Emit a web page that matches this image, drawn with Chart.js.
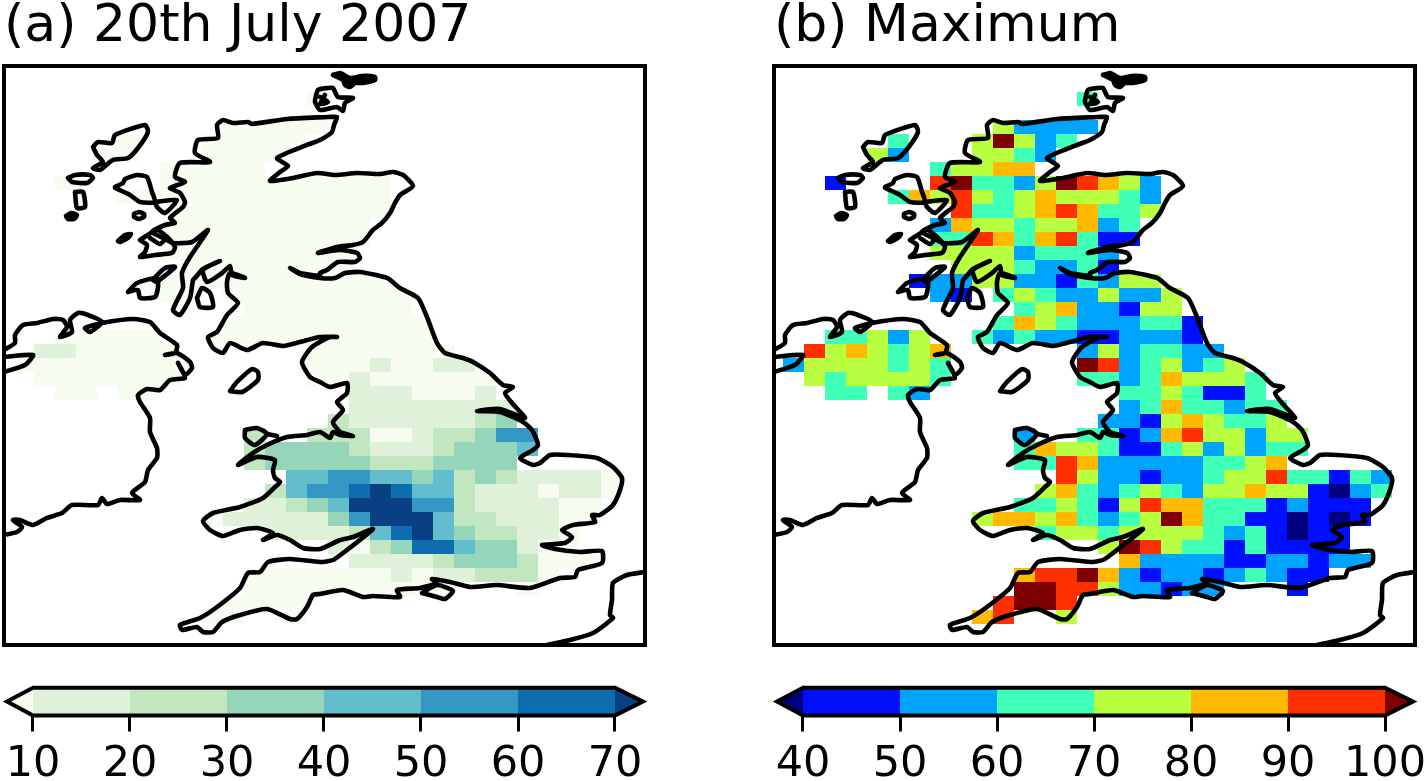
<!DOCTYPE html>
<html><head><meta charset="utf-8">
<style>
html,body{margin:0;padding:0;background:#fff;width:1425px;height:781px;overflow:hidden}
canvas{position:absolute;display:block}
</style>
<script src="https://cdn.jsdelivr.net/npm/chart.js@4"></script>
</head><body>
<canvas id="mapA" width="650" height="650" style="left:0;top:0;width:650px;height:650px"></canvas>
<canvas id="mapB" width="650" height="650" style="left:770px;top:0;width:650px;height:650px"></canvas>
<canvas id="barA" width="700" height="151" style="left:0;top:640px;width:700px;height:151px"></canvas>
<canvas id="barB" width="700" height="151" style="left:770px;top:640px;width:700px;height:151px"></canvas>
<script>
const _ = null;
const titleA = '(a) 20th July 2007';
const titleB = '(b) Maximum';

// Colour bands
const ticksA = [10,20,30,40,50,60,70];
const ticksB = [40,50,60,70,80,90,100];
const coloursA = ['#f7fcf0','#dff2d9','#c2e7c0','#95d6bb','#62bdcc','#3597c4','#0d6daf','#084081'];
const coloursB = ['#00007f','#0010ff','#00a4ff','#40ffb7','#b7ff40','#ffb900','#ff3000','#7f0000'];

// Grid cells: [row, first column, ...band values]. Band mid-values.
const rowsA = [
[2,14,5],
[4,10,5,5,5,5,5],
[5,5,5,_,_,_,5,5,5,5,5],
[6,4,5,5,_,_,_,5,5,5,5],
[7,7,5,5,5,5,5],
[8,2,5,_,_,_,_,5,5,5,5,5,5,5,5,5,5,5],
[9,5,5,5,5,5,5,5,5,5,5,5,5,5,5],
[10,8,5,5,5,5,5,5,5,5,5,5],
[11,7,5,5,5,5,5,5,5,5,5,5],
[12,7,5,5,5,5,5,5,5,5,5,5],
[13,7,5,5,5,5,5,5,5,5,5],
[14,8,5,5,5,5,5,5,5,5],
[15,6,5,5,5,5,5,5,5,5,5,5,5,5],
[16,7,5,5,_,5,5,5,5,5,5,5,5,5],
[17,11,5,5,5,5,5,5,5,5],
[18,10,5,5,5,5,5,5,5,5,5,5],
[19,2,5,5,5,5,5,_,_,5,5,5,5,5,5,5,5,5,5,5],
[20,1,15,15,5,5,5,5,5,_,_,_,_,_,_,5,5,5,5,5,5,5],
[21,0,5,5,5,5,5,5,5,5,_,_,_,_,_,_,5,5,5,15,5,5,15,15],
[22,1,5,5,5,5,5,5,5,_,_,_,_,_,_,5,5,15,5,5,5,5,5,5],
[23,2,5,5,_,5,5,_,_,_,_,_,_,_,_,_,15,15,15,5,5,5,15],
[24,16,15,15,15,15,15,15,15,15],
[25,15,25,15,15,15,15,15,15,25,35],
[26,11,25,_,_,25,25,25,5,5,15,25,25,35,55,55],
[27,11,25,35,35,35,35,25,15,15,15,25,35,35,35,45],
[28,11,25,35,35,35,35,35,25,25,25,35,35,35,35],
[29,13,45,45,55,55,45,45,35,45,25,35,25,15,15,15,15,5],
[30,12,25,45,55,55,65,75,65,45,45,25,15,15,15,5,15,15,5],
[31,11,15,15,25,35,45,75,75,75,55,55,25,15,15,15,15,5,5],
[32,9,5,15,15,15,15,15,35,55,75,75,75,45,25,25,15,15,15,5,5],
[33,12,15,15,15,15,25,45,65,75,45,35,25,25,15,15,5],
[34,15,15,5,25,35,65,65,45,35,35,15,5,5],
[35,16,15,15,15,15,25,35,35,35,25,5,5,5],
[36,11,5,5,5,5,5,5,5,15,5,15,15,25,25,25,5],
[37,11,5,5,5,5,5,5,5,5,5,5,_,_,_,5],
[38,10,5,5,5,5],
[39,9,5,5,_,_,5]
];
const rowsB = [
[2,14,65],
[4,10,75,55,55,55,55],
[5,5,65,_,_,_,75,105,75,55,65],
[6,4,75,55,_,_,_,75,75,65,55],
[7,7,65,75,75,85,85],
[8,2,45,_,_,_,_,95,105,65,65,55,75,105,95,85,75,55],
[9,5,65,85,75,95,75,65,75,85,75,75,75,65,55],
[10,8,95,65,65,75,85,95,85,65,65,75],
[11,7,55,85,75,75,65,75,75,85,55,65],
[12,7,65,65,95,85,65,85,95,65,45,45],
[13,7,75,75,75,75,55,65,65,65,55],
[14,8,75,75,75,65,55,55,65,45],
[15,6,45,55,55,75,75,55,55,45,65,55,75,75],
[16,7,55,45,_,65,75,65,55,55,75,55,55,75],
[17,11,65,75,85,55,55,45,75,75],
[18,10,65,85,75,65,55,55,55,65,65,45],
[19,2,65,65,75,55,75,_,_,65,55,65,55,55,45,45,55,55,55,45],
[20,1,95,75,85,75,65,75,85,_,_,_,_,_,_,55,75,55,65,65,55,55],
[21,0,55,75,75,75,75,65,75,65,_,_,_,_,_,_,105,95,55,65,75,55,65,75],
[22,1,75,65,75,75,75,75,65,_,_,_,_,_,_,65,65,55,65,85,75,75,75,65],
[23,2,65,65,_,65,55,_,_,_,_,_,_,_,_,_,65,65,75,65,45,45,65],
[24,16,55,65,85,65,65,55,65,65],
[25,15,55,55,45,75,85,75,65,65,75],
[26,11,55,_,_,65,65,45,55,85,95,75,75,55,75,75],
[27,11,65,85,75,75,65,45,45,65,75,55,75,55,65,65],
[28,11,65,65,95,85,55,55,55,55,55,65,65,75,85],
[29,13,95,75,55,55,45,55,55,65,75,75,95,65,65,45,65,55],
[30,12,75,85,65,55,65,75,65,55,75,75,85,75,75,45,35,55,65],
[31,11,65,65,75,65,45,75,95,85,85,65,65,65,45,55,45,45,45],
[32,9,75,85,85,75,85,65,55,65,75,105,85,65,65,45,45,35,45,35,45],
[33,12,65,75,75,65,75,75,75,75,65,55,65,45,35,45,45],
[34,15,75,105,95,75,65,65,45,65,45,45,45,45],
[35,16,85,55,55,55,55,45,45,55,55,45,55,55],
[36,11,85,95,95,105,85,55,45,55,55,45,55,65,55,45,45],
[37,11,105,105,95,95,75,55,55,45,55,55,_,_,_,45],
[38,10,95,105,105,95],
[39,9,85,95,_,_,75]
];

// Coastlines in map units
const coastGB = [[328,117],[337,117],[334,125],[332,132],[320,140],[307,145],[277,158],[288,166],[280,172],[270,181],[293,178],[317,173],[335,175],[357,173],[380,174],[393,172],[403,175],[413,186],[400,195],[395,203],[390,213],[382,223],[373,230],[363,242],[353,245],[337,247],[320,252],[318,253],[340,250],[357,253],[360,258],[355,262],[338,262],[327,270],[320,273],[320,276],[300,273],[290,268],[300,274],[320,278],[335,278],[345,273],[360,272],[387,278],[400,288],[418,298],[427,317],[437,343],[445,353],[463,358],[473,362],[490,373],[503,385],[513,387],[505,393],[512,403],[525,418],[500,409],[477,411],[500,412],[523,422],[532,430],[538,445],[533,450],[520,458],[533,465],[540,463],[550,455],[567,455],[597,458],[613,467],[622,478],[620,490],[613,505],[600,515],[592,515],[595,522],[573,525],[562,530],[572,537],[565,543],[542,545],[555,549],[580,552],[602,551],[602,563],[578,570],[575,577],[560,578],[530,588],[497,585],[470,587],[450,582],[432,579],[437,583],[420,588],[397,590],[400,597],[373,596],[363,597],[343,590],[320,594],[313,595],[307,607],[297,619],[290,619],[267,609],[240,615],[222,622],[213,632],[203,632],[197,627],[182,630],[180,625],[200,618],[217,607],[240,588],[248,573],[260,572],[268,562],[290,559],[320,562],[333,560],[347,550],[373,529],[353,537],[340,540],[320,549],[303,548],[290,540],[277,535],[263,540],[273,533],[257,528],[240,530],[223,536],[210,530],[203,521],[213,513],[240,507],[263,498],[275,487],[280,482],[275,478],[273,470],[275,460],[257,457],[238,465],[253,453],[267,445],[287,437],[307,435],[320,432],[330,438],[333,432],[340,435],[353,436],[340,432],[333,422],[343,410],[337,402],[347,393],[347,383],[330,387],[320,382],[310,377],[302,362],[312,347],[330,337],[337,337],[320,337],[300,342],[283,346],[263,343],[247,350],[230,343],[223,353],[213,348],[208,337],[217,332],[227,315],[238,303],[228,293],[227,282],[230,273],[245,278],[232,275],[230,266],[222,273],[207,282],[203,270],[220,261],[203,269],[195,278],[193,280],[190,298],[180,315],[173,310],[183,288],[182,273],[190,257],[208,230],[192,242],[173,243],[163,238],[152,232],[165,225],[175,223],[170,218],[183,207],[185,202],[180,193],[170,188],[185,182],[175,177],[180,163],[210,162],[195,153],[198,140],[218,138],[217,125],[223,120],[233,123],[248,122],[252,124],[287,119],[328,117]];
const coastIreland = [[4,350],[15,343],[15,335],[23,325],[37,323],[53,319],[63,320],[67,327],[60,337],[72,332],[70,320],[78,313],[88,315],[102,322],[90,332],[85,328],[102,323],[133,319],[150,322],[160,333],[177,345],[175,353],[165,355],[177,353],[190,362],[192,368],[185,375],[178,363],[183,372],[185,378],[170,380],[160,390],[147,389],[138,395],[140,402],[150,418],[150,432],[157,448],[157,458],[148,470],[145,482],[132,493],[140,500],[120,500],[107,504],[102,498],[98,505],[72,505],[62,513],[47,518],[33,525],[20,520],[13,520],[22,527],[17,532],[4,535]];
const coastDonegal = [[4,357],[33,355],[25,365],[4,372]];
const coastFrance = [[645,572],[627,575],[613,583],[612,600],[610,615],[613,618],[593,633],[570,640],[547,645]];
const islandLoops = [
 [[245,430],[257,428],[267,434],[255,445],[245,438],[245,430]],
 [[267,434],[277,436]],
 [[197,298],[200,307],[213,307],[210,293],[202,288],[197,298]],
 [[115,187],[123,183],[125,179],[137,175],[147,177],[152,192],[155,202],[140,202],[130,195],[115,188]],
 [[155,202],[177,200],[165,213],[157,207],[155,202]],
 [[140,240],[157,230],[167,237],[175,247],[172,253],[155,255],[140,257],[145,252],[147,245],[140,240]],
 [[150,238],[160,244],[167,237]],
 [[157,282],[175,267],[165,268],[153,280],[157,282]],
 [[128,292],[137,283],[157,278],[158,287],[155,297],[140,298],[138,290],[128,292]],
 [[93,147],[98,142],[112,143],[115,135],[145,125],[148,132],[138,148],[128,158],[113,160],[100,170],[93,168],[103,162],[97,155],[93,147]],
 [[68,178],[75,175],[90,175],[93,178],[87,183],[72,182],[68,178]],
 [[75,192],[83,192],[85,207],[77,208],[75,192]],
 [[134,214],[139,212],[144,214],[144,217],[139,219],[134,217],[134,214]],
 [[315,100],[318,90],[328,88],[333,88],[338,97],[353,98],[345,103],[343,111],[337,107],[320,110],[315,102],[315,100]],
 [[320,97],[328,102],[320,104],[325,95]],
 [[230,391],[237,382],[252,369],[258,372],[258,380],[242,392],[230,391]],
 [[422,593],[437,585],[453,591],[445,599],[437,597],[422,593]]
];
const solidIslands = [
 [[66,216],[71,213],[77,215],[74,219],[68,219],[66,216]],
 [[118,241],[125,235],[131,234],[128,238],[120,242],[118,241]],
 [[333,75],[340,73],[350,78],[362,76],[375,77],[375,80],[363,83],[355,83],[350,87],[345,85],[343,80],[333,75]]
];

// Map units: extents of the frame and size of a grid cell
const mapX = [4,645], mapY = [66,645];
const gridX0 = 13, gridDX = 21, gridY0 = 64, gridDY = 14;

const pts = a => a.map(p => ({x:p[0], y:p[1]}));
function bandColour(v, ticks, colours){
  if (v < ticks[0]) return colours[0];
  for (let i = 1; i < ticks.length; i++) if (v < ticks[i]) return colours[i];
  return colours[colours.length-1];
}
function polygon(points, colour){
  return {type:'scatter', data:points, showLine:true, fill:'shape', backgroundColor:colour,
          borderColor:'transparent', borderWidth:0, pointRadius:0, pointHoverRadius:0, order:3};
}
function stroke(points, width, order, closedFill){
  return {type:'scatter', data:points, showLine:true, fill:closedFill?'shape':false,
          backgroundColor:closedFill||'transparent', borderColor:'#000', borderWidth:width,
          borderJoinStyle:'round', borderCapStyle:'round', pointRadius:0, pointHoverRadius:0, order};
}
function mapChart(id, title, rows, ticks, colours){
  const ds = [];
  ds.push(Object.assign(stroke(pts([[mapX[0],mapY[0]],[mapX[1],mapY[0]],[mapX[1],mapY[1]],[mapX[0],mapY[1]],[mapX[0],mapY[0]]]),4,0),{clip:false,borderJoinStyle:'miter',borderCapStyle:'square'}));
  [coastGB,coastIreland,coastDonegal,coastFrance].concat(islandLoops).forEach(c => ds.push(Object.assign(stroke(pts(c),4.6,1),{tension:0.2})));
  solidIslands.forEach(c => ds.push(Object.assign(stroke(pts(c),4.6,1,'#000'),{tension:0.2})));
  rows.forEach(row => {
    const r = row[0], c0 = row[1];
    row.slice(2).forEach((v,i) => {
      if (v === null) return;
      const l = gridX0+gridDX*(c0+i), t = gridY0+gridDY*r;
      ds.push(polygon([{x:l,y:t},{x:l+gridDX,y:t},{x:l+gridDX,y:t+gridDY},{x:l,y:t+gridDY}], bandColour(v,ticks,colours)));
    });
  });
  return new Chart(document.getElementById(id), {
    type:'scatter',
    data:{datasets:ds},
    options:{
      responsive:false, animation:false, events:[],
      layout:{padding:{left:4,right:5,top:0,bottom:5}},
      plugins:{legend:{display:false}, tooltip:{enabled:false},
        title:{display:true, text:title, align:'start', color:'#000',
          font:{family:'DejaVu Sans', size:52, weight:'normal', lineHeight:1.065},
          padding:{top:0,bottom:10.6}}},
      scales:{
        x:{type:'linear', display:false, min:mapX[0], max:mapX[1]},
        y:{type:'linear', display:false, reverse:true, min:mapY[0], max:mapY[1]}
      }
    }
  });
}
// Chart area spans 76 units of height above the axis; the bar fills its lowest 28.
const barHeadroom = 76/28;
function colourBar(id, ticks, colours){
  const lo = ticks[0], hi = ticks[ticks.length-1], unit = (hi-lo)/582;
  const min = lo-26*unit, max = hi+28*unit;
  const ds = [];
  ds.push(Object.assign(stroke(pts([[lo,1],[hi,1],[max,0.5],[hi,0],[lo,0],[min,0.5],[lo,1]]),4,0),{clip:false,borderJoinStyle:'miter'}));
  ds.push(polygon(pts([[lo,1],[min,0.5],[lo,0]]),colours[0]));
  ds.push(polygon(pts([[hi,1],[max,0.5],[hi,0]]),colours[colours.length-1]));
  for (let i = 0; i < ticks.length-1; i++)
    ds.push(polygon(pts([[ticks[i],0],[ticks[i+1],0],[ticks[i+1],1],[ticks[i],1]]),colours[i+1]));
  return new Chart(document.getElementById(id), {
    type:'scatter',
    data:{datasets:ds},
    options:{
      responsive:false, animation:false, events:[],
      layout:{padding:{left:7,right:57,top:0,bottom:0}},
      plugins:{legend:{display:false}, tooltip:{enabled:false}},
      scales:{
        x:{type:'linear', min, max,
          afterBuildTicks:a=>{a.ticks=ticks.map(v=>({value:v}));},
          afterFit:a=>{a.paddingLeft=0;a.paddingRight=0;},
          border:{display:false},
          grid:{drawOnChartArea:false, drawTicks:true, tickLength:16, lineWidth:3, color:'#000'},
          ticks:{autoSkip:false, maxRotation:0, minRotation:0, padding:12, color:'#000',
            font:{family:'DejaVu Sans', size:43, lineHeight:1}}},
        y:{type:'linear', display:false, min:0, max:barHeadroom}
      }
    }
  });
}
mapChart('mapA', titleA, rowsA, ticksA, coloursA);
mapChart('mapB', titleB, rowsB, ticksB, coloursB);
colourBar('barA', ticksA, coloursA);
colourBar('barB', ticksB, coloursB);
</script>
</body></html>
